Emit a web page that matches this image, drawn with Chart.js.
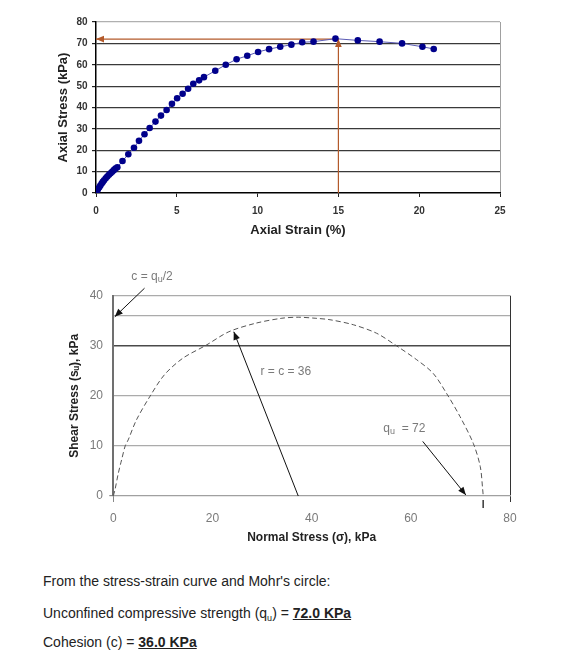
<!DOCTYPE html>
<html><head><meta charset="utf-8">
<script src="https://cdn.jsdelivr.net/npm/chart.js@4.4.0/dist/chart.umd.min.js"></script>
<style>
html,body{margin:0;padding:0;background:#fff;width:587px;height:672px;overflow:hidden;}
canvas{position:absolute;left:0;}
#c1{top:0;}
#c2{top:250px;}
.txt{position:absolute;left:43px;font-family:"Liberation Sans",Arial,sans-serif;font-size:14px;line-height:14px;color:#222;white-space:nowrap;}
.txt b{text-decoration:underline;}
.txt sub{font-size:9px;line-height:0;vertical-align:-3px;}
</style></head><body>
<canvas id="c1" width="587" height="250"></canvas>
<canvas id="c2" width="587" height="300"></canvas>
<div class="txt" style="top:574px">From the stress-strain curve and Mohr's circle:</div>
<div class="txt" style="top:606px">Unconfined compressive strength (q<sub>u</sub>) = <b>72.0 KPa</b></div>
<div class="txt" style="top:635px">Cohesion (c) = <b>36.0 KPa</b></div>
<script>
// ---------- data: stress-strain curve ----------
const strain = [0,0.05,0.12,0.2,0.27,0.35,0.42,0.5,0.6,0.7,0.8,0.9,1.0,1.1,1.2,1.32,1.64,2.0,2.35,2.66,3.0,3.32,3.68,4.02,4.37,4.7,5.02,5.36,5.7,6.02,6.38,6.68,7.38,8.03,8.7,9.36,10.03,10.71,11.4,12.09,12.76,13.46,14.82,16.2,17.55,18.94,20.2,20.9];
const stress = [0,0.8,1.7,2.7,3.5,4.4,5.2,6.0,6.9,7.7,8.5,9.2,9.9,10.7,11.4,12.0,15.0,18.1,21.2,24.4,27.5,30.4,33.4,36.2,38.8,41.7,44.3,46.4,48.8,51.1,52.7,54.2,57.2,60.0,62.6,64.2,66.0,67.3,68.4,69.4,70.5,70.8,72.2,71.4,70.8,70.0,68.4,67.4];
const peakArrowX = [15,15];   const peakArrowY = [0,72];
const quArrowX = [15,0];      const quArrowY = [72,72];
const strainTicks = [0,5,10,15,20,25];
const stressTicks = [0,10,20,30,40,50,60,70,80];

// ---------- data: Mohr's circle ----------
const sigma = [0,0.33,1.0,1.67,2.4,3.0,4.67,7.33,10.3,14,18.7,23.3,28.7,34,37.3,40.7,43.7,48.4,53.1,57.1,61.2,64.5,67.2,69.9,72.6,74,74.5,74.6];
const tau   = [0,1.2,4.5,7.2,10.0,11.2,15.2,19.8,24.2,27.5,30.1,32.8,34.5,35.5,35.7,35.5,35.2,34.2,32.5,30.0,27.2,24.5,20.5,15.9,10.5,5.9,1.2,0];
const cArrowX = [6.3,0.3];    const cArrowY = [41.5,35.8];
const rArrowX = [37.3,24.3];  const rArrowY = [0,32.8];
const qArrowX = [62.4,71.1];  const qArrowY = [10.9,0.2];
const endMarkX = [74.6,74.6]; const endMarkY = [-0.8,-2.4];
const noteTexts = ['c = q_u/2','r = c = 36','q_u  = 72'];
const noteX = [7.8,34.8,58.7];
const noteY = [43.8,24.8,13.4];
const sigmaTicks = [0,20,40,60,80];
const tauTicks = [0,10,20,30,36,40];

const FF = '"Liberation Sans", Arial, sans-serif';
const pts = (xs,ys)=>xs.map((x,i)=>({x:x,y:ys[i]}));

const arrowPlugin = {
  id:'arrows',
  afterDatasetsDraw(chart){
    const ctx = chart.ctx;
    chart.data.datasets.forEach((ds,i)=>{
      if(!ds.arrowHead) return;
      const p = chart.getDatasetMeta(i).data; const n = p.length;
      const a = p[n-2], b = p[n-1];
      const ang = Math.atan2(b.y-a.y, b.x-a.x);
      const L = ds.arrowHead, W = L*0.42;
      const bx = b.x - L*Math.cos(ang), by = b.y - L*Math.sin(ang);
      ctx.save(); ctx.fillStyle = ds.borderColor;
      ctx.beginPath(); ctx.moveTo(b.x,b.y);
      ctx.lineTo(bx + W*Math.sin(ang), by - W*Math.cos(ang));
      ctx.lineTo(bx - W*Math.sin(ang), by + W*Math.cos(ang));
      ctx.closePath(); ctx.fill(); ctx.restore();
    });
  }
};

function drawRich(ctx, str, cx, cy, size){
  const segs = [];
  const re = /_(.)/g; let last = 0, m;
  while((m = re.exec(str))){ if(m.index>last) segs.push({t:str.slice(last,m.index),s:false}); segs.push({t:m[1],s:true}); last = re.lastIndex; }
  if(last<str.length) segs.push({t:str.slice(last),s:false});
  const fN = size+'px '+FF, fS = Math.round(size*0.72)+'px '+FF;
  let tw = 0;
  segs.forEach(s=>{ ctx.font = s.s?fS:fN; s.w = ctx.measureText(s.t).width; tw += s.w; });
  let x = cx - tw/2;
  ctx.textBaseline = 'middle'; ctx.textAlign = 'left';
  segs.forEach(s=>{ ctx.font = s.s?fS:fN; ctx.fillText(s.t, x, cy + (s.s?3:0)); x += s.w; });
}

const notesPlugin = {
  id:'notes',
  afterDatasetsDraw(chart){
    const ctx = chart.ctx, xs = chart.scales.x, ys = chart.scales.y;
    ctx.save(); ctx.fillStyle = '#7a7a7a';
    noteTexts.forEach((t,i)=>drawRich(ctx, t, xs.getPixelForValue(noteX[i]), ys.getPixelForValue(noteY[i]), 12));
    ctx.restore();
  }
};

Chart.defaults.font.family = FF;
Chart.defaults.animation = false;

const tauGridColor = v => v===30 ? '#4a4a4a' : (v===0 ? 'rgba(0,0,0,0)' : '#ababab');

// ---------- top chart ----------
new Chart(document.getElementById('c1'), {
  type:'scatter',
  data:{datasets:[
    {data:pts(strain,stress), showLine:true, borderColor:'#5a5ab4', borderWidth:1, pointRadius:3.3, pointBackgroundColor:'#00008b', pointBorderWidth:0, pointHoverRadius:3.3},
    {data:pts(peakArrowX,peakArrowY), showLine:true, borderColor:'#b35a2b', borderWidth:1.2, pointRadius:0, arrowHead:8},
    {data:pts(quArrowX,quArrowY), showLine:true, borderColor:'#b35a2b', borderWidth:1.2, pointRadius:0, arrowHead:8}
  ]},
  options:{
    responsive:false, events:[],
    layout:{padding:{top:22,right:87,left:0,bottom:0}},
    plugins:{legend:{display:false},tooltip:{enabled:false}},
    scales:{
      x:{type:'linear', min:0, max:25,
        afterBuildTicks:s=>{s.ticks = strainTicks.map(v=>({value:v}));},
        afterFit:s=>{s.height = 57;},
        ticks:{font:{size:10,weight:'bold'}, color:'#333', padding:8, maxRotation:0, autoSkip:false},
        grid:{drawOnChartArea:true, color:c=>c.tick && c.tick.value===25?'#a0a0a0':'rgba(0,0,0,0)', tickColor:'#222', tickLength:4},
        border:{color:'#000', width:1.5},
        title:{display:true, text:'Axial Strain (%)', font:{size:13,weight:'bold'}, color:'#222', padding:{top:0,bottom:12}}
      },
      y:{type:'linear', min:0, max:80,
        afterBuildTicks:s=>{s.ticks = stressTicks.map(v=>({value:v}));},
        afterFit:s=>{s.width = 96;},
        ticks:{font:{size:10,weight:'bold'}, color:'#333', padding:4.5, autoSkip:false},
        grid:{color:c=>c.tick && c.tick.value===80?'#b0b0b0':(c.tick && c.tick.value===0?'rgba(0,0,0,0)':'#3a3a3a'), lineWidth:1.2, tickColor:'#222', tickLength:4},
        border:{color:'#000', width:1.5},
        title:{display:true, text:'Axial Stress (kPa)', font:{size:13,weight:'bold'}, color:'#222', padding:{top:55.5,bottom:0}}
      }
    }
  },
  plugins:[arrowPlugin]
});

// ---------- bottom chart (Mohr's circle) ----------
new Chart(document.getElementById('c2'), {
  type:'scatter',
  data:{datasets:[
    {data:pts(sigma,tau), showLine:true, borderColor:'#555', borderWidth:1, borderDash:[5,3], pointRadius:0, tension:0.3},
    {data:pts(cArrowX,cArrowY), showLine:true, borderColor:'#111', borderWidth:1, pointRadius:0, arrowHead:8, clip:false},
    {data:pts(rArrowX,rArrowY), showLine:true, borderColor:'#111', borderWidth:1, pointRadius:0, arrowHead:8},
    {data:pts(qArrowX,qArrowY), showLine:true, borderColor:'#111', borderWidth:1, pointRadius:0, arrowHead:8},
    {data:pts(endMarkX,endMarkY), showLine:true, borderColor:'#444', borderWidth:1, pointRadius:0, clip:false}
  ]},
  options:{
    responsive:false, events:[],
    layout:{padding:{top:45.7,right:77,left:0,bottom:0}},
    plugins:{legend:{display:false},tooltip:{enabled:false}},
    scales:{
      x:{type:'linear', min:0, max:80,
        afterBuildTicks:s=>{s.ticks = sigmaTicks.map(v=>({value:v}));},
        afterFit:s=>{s.height = 54;},
        ticks:{font:{size:12}, color:'#7a7a7a', padding:9.5, maxRotation:0, autoSkip:false},
        grid:{drawOnChartArea:true, color:c=>c.tick && c.tick.value===80?'#333':'rgba(0,0,0,0)',
              tickColor:c=>c.tick && c.tick.value===80?'#333':(c.tick && c.tick.value===0?'#888':'rgba(0,0,0,0)'), tickLength:6},
        border:{color:'#a0a0a0', width:1.2},
        title:{display:true, text:'Normal Stress (σ), kPa', font:{size:12,weight:'bold'}, color:'#222', padding:{top:0,bottom:4.8}}
      },
      y:{type:'linear', min:0, max:40,
        afterBuildTicks:s=>{s.ticks = tauTicks.map(v=>({value:v}));},
        afterFit:s=>{s.width = 113.3;},
        ticks:{font:{size:12}, color:'#7a7a7a', padding:6.3, autoSkip:false, callback:v=>v===36?'':v},
        grid:{color:c=>tauGridColor(c.tick ? c.tick.value : -1),
              lineWidth:c=>(c.tick && c.tick.value===30)?1.4:1.2,
              tickColor:c=>c.tick && c.tick.value===0?'#888':'rgba(0,0,0,0)', tickLength:4},
        border:{color:'#707070', width:2},
        title:{display:true, text:'Shear Stress (sᵤ), kPa', font:{size:12,weight:'bold'}, color:'#222', padding:{top:67.8,bottom:0}}
      }
    }
  },
  plugins:[arrowPlugin, notesPlugin]
});
</script>
</body></html>
